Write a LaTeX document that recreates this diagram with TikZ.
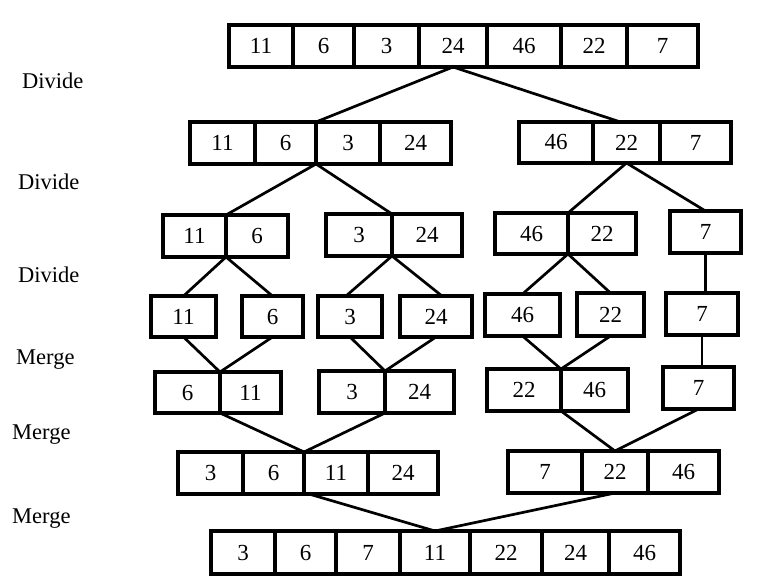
\documentclass[tikz,border=0pt]{standalone}
\usepackage{fontspec}
\setmainfont{Liberation Serif}
\usetikzlibrary{calc}
\tikzset{
  cellbox/.style={draw=black, line width=3.1pt, inner sep=0pt, outer sep=0pt,
    font=\fontsize{23}{27}\selectfont},
  conn/.style={draw=black, line width=2.7pt, line cap=round},
  lab/.style={anchor=base west, inner sep=0pt, font=\fontsize{22.5}{27}\selectfont}
}
\newcommand\mkcell[6]{%
  \node[cellbox, minimum width={#3-#2}, minimum height={#5-#4}] (#1) at ({(#2+#3)/2},{(#4+#5)/2}) {#6};}
\begin{document}
\begin{tikzpicture}[x=1pt,y=-1pt]
\fill[white] (0,0) rectangle (768,585);
\useasboundingbox (0,0) rectangle (768,585);
% labels
\node[lab] (l1) at (22,89) {Divide};
\node[lab] (l2) at (18,190) {Divide};
\node[lab] (l3) at (18,283) {Divide};
\node[lab] (l4) at (16,364) {Merge};
\node[lab] (l5) at (12,439) {Merge};
\node[lab] (l6) at (12,523) {Merge};
% row 1
\mkcell{r1a}{229}{293}{25}{67}{11}
\mkcell{r1b}{293}{354}{25}{67}{6}
\mkcell{r1c}{354}{419}{25}{67}{3}
\mkcell{r1d}{419}{487}{25}{67}{24}
\mkcell{r1e}{487}{561}{25}{67}{46}
\mkcell{r1f}{561}{627}{25}{67}{22}
\mkcell{r1g}{627}{698}{25}{67}{7}
% row 2
\mkcell{r2a}{190}{255}{122}{164}{11}
\mkcell{r2b}{255}{316}{122}{164}{6}
\mkcell{r2c}{316}{380}{122}{164}{3}
\mkcell{r2d}{380}{451}{122}{164}{24}
\mkcell{r2e}{519}{593}{122}{163}{46}
\mkcell{r2f}{593}{660}{122}{163}{22}
\mkcell{r2g}{660}{731}{122}{163}{7}
% row 3
\mkcell{r3a}{163}{226}{215}{257}{11}
\mkcell{r3b}{226}{288}{215}{257}{6}
\mkcell{r3c}{326}{392}{214}{256}{3}
\mkcell{r3d}{392}{462}{214}{256}{24}
\mkcell{r3e}{495}{568}{213}{254}{46}
\mkcell{r3f}{568}{636}{213}{254}{22}
\mkcell{r3g}{670}{741}{211}{253}{7}
% row 4
\mkcell{r4a}{151}{216}{296}{337}{11}
\mkcell{r4b}{242}{303}{296}{337}{6}
\mkcell{r4c}{318}{382}{296}{337}{3}
\mkcell{r4d}{400}{472}{296}{337}{24}
\mkcell{r4e}{485}{560}{294}{336}{46}
\mkcell{r4f}{577}{644}{293}{336}{22}
\mkcell{r4g}{666}{738}{293}{335}{7}
% row 5
\mkcell{r5a}{155}{220}{372}{413}{6}
\mkcell{r5b}{220}{281}{372}{413}{11}
\mkcell{r5c}{319}{385}{371}{413}{3}
\mkcell{r5d}{385}{454}{371}{413}{24}
\mkcell{r5e}{487}{561}{369}{411}{22}
\mkcell{r5f}{561}{628}{369}{411}{46}
\mkcell{r5g}{663}{734}{367}{409}{7}
% row 6
\mkcell{r6a}{178}{243}{452}{494}{3}
\mkcell{r6b}{243}{304}{452}{494}{6}
\mkcell{r6c}{304}{368}{452}{494}{11}
\mkcell{r6d}{368}{438}{452}{494}{24}
\mkcell{r6e}{508}{582}{451}{493}{7}
\mkcell{r6f}{582}{648}{451}{493}{22}
\mkcell{r6g}{648}{719}{451}{493}{46}
% row 7
\mkcell{r7a}{211}{275}{531}{574}{3}
\mkcell{r7b}{275}{336}{531}{574}{6}
\mkcell{r7c}{336}{400}{531}{574}{7}
\mkcell{r7d}{400}{470}{531}{574}{11}
\mkcell{r7e}{470}{542}{531}{574}{22}
\mkcell{r7f}{542}{609}{531}{574}{24}
\mkcell{r7g}{609}{680}{531}{574}{46}
% connectors: divide
\draw[conn] (r1d.south) -- (r2b.north east);
\draw[conn] (r1d.south) -- ($(r2f.north)+(-6,0)$);
\draw[conn] (r2b.south east) -- (r3a.north east);
\draw[conn] (r2b.south east) -- (r3c.north east);
\draw[conn] (r2f.south) -- (r3e.north east);
\draw[conn] (r2f.south) -- (r3g.north);
\draw[conn] (r3a.south east) -- (r4a.north);
\draw[conn] (r3a.south east) -- (r4b.north);
\draw[conn] (r3c.south east) -- ($(r4c.north)+(-4,0)$);
\draw[conn] (r3c.south east) -- ($(r4d.north)+(6,0)$);
\draw[conn] (r3e.south east) -- (r4e.north);
\draw[conn] (r3e.south east) -- (r4f.north);
\draw[conn] (r3g.south) -- (r3g.south |- r4g.north);
% connectors: merge
\draw[conn] (r4a.south) -- (r5a.north east);
\draw[conn] (r4b.south) -- (r5a.north east);
\draw[conn] (r4c.south) -- (r5c.north east);
\draw[conn] (r4d.south) -- (r5c.north east);
\draw[conn] (r4e.south) -- (r5e.north east);
\draw[conn] (r4f.south) -- (r5e.north east);
\draw[conn] (r4g.south) -- (r4g.south |- r5g.north);
\draw[conn] (r5a.south east) -- (r6b.north east);
\draw[conn] (r5c.south east) -- (r6b.north east);
\draw[conn] (r5e.south east) -- (r6f.north);
\draw[conn] (r5g.south) -- (r6f.north);
\draw[conn] ($(r6b.south east)+(5,0)$) -- (r7d.north);
\draw[conn] (r6f.south) -- (r7d.north);
\end{tikzpicture}
\end{document}
